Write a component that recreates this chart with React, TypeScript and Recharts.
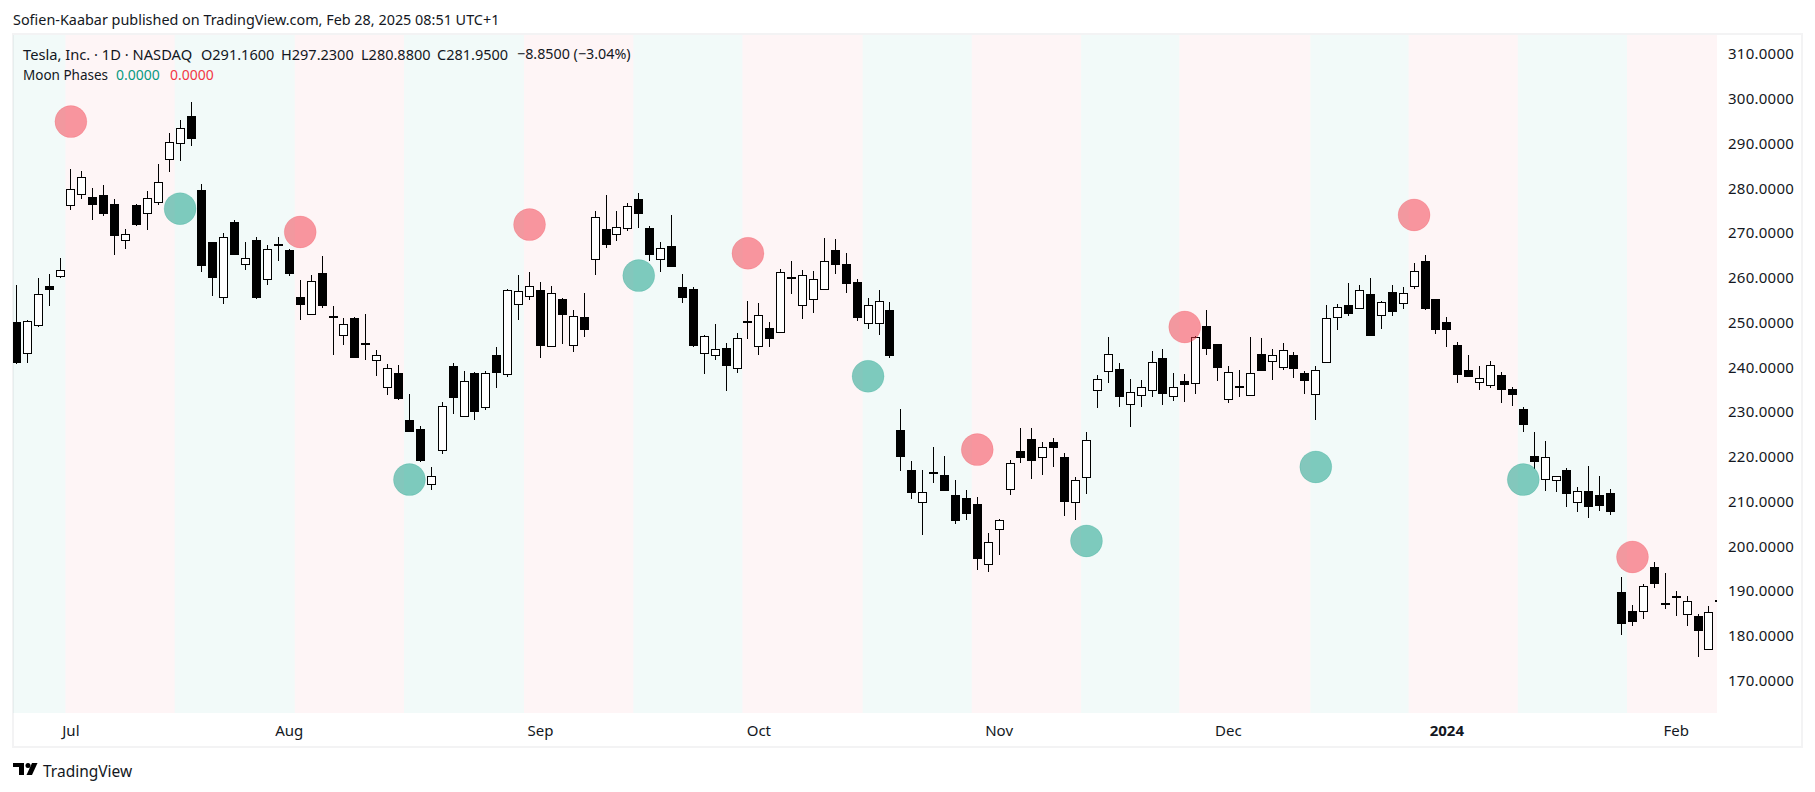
import { Bar, ComposedChart, Line, ReferenceArea, XAxis, YAxis } from "recharts"

// Tesla daily candles, Jun 2023 - Feb 2024
const opens = [
  250.12, 243.27, 249.53, 258.17, 260.48, 276.35, 278.81, 278.06, 278.51, 276.5, 268.52, 276.27, 274.56, 277.02, 286.48, 290.06, 296.09, 279.55, 267.93, 255.78,
  272.47, 263.16, 268.45, 259.81, 267.35, 266.22, 255.71, 251.99, 261.07, 251.35, 247.29, 251.02, 245.3, 241.7, 235.67, 238.72, 228.22, 226.21, 214.0, 221.59,
  240.29, 229.19, 238.72, 231.2, 242.75, 238.57, 254.22, 256.01, 257.27, 244.83, 255.26, 245.06, 251.24, 264.28, 270.91, 269.87, 271.21, 277.61, 271.13, 264.28,
  267.11, 257.95, 257.5, 243.27, 242.82, 244.31, 239.92, 250.22, 244.83, 248.78, 247.96, 260.06, 254.0, 255.34, 257.57, 266.22, 263.09, 259.06, 249.97, 249.97,
  252.81, 225.98, 217.04, 209.97, 216.47, 215.93, 211.46, 210.79, 209.45, 196.11, 203.93, 212.87, 221.29, 223.97, 220.03, 223.3, 219.95, 209.97, 215.55, 234.98,
  239.25, 239.62, 231.87, 233.88, 235.0, 242.08, 233.66, 236.94, 236.57, 249.23, 245.21, 232.99, 235.69, 233.88, 242.97, 241.48, 240.14, 242.75, 238.72, 234.11,
  241.26, 251.17, 253.85, 253.18, 256.38, 251.76, 256.83, 254.44, 258.24, 263.76, 255.26, 250.12, 244.98, 239.39, 236.79, 236.12, 238.28, 235.15, 230.68, 220.17,
  215.11, 214.88, 217.05, 209.97, 212.35, 211.46, 211.9, 189.78, 185.53, 185.61, 195.37, 187.25, 188.89, 184.93, 184.41, 177.11, 187.85,
]
const closes = [
  240.96, 250.27, 256.31, 257.27, 261.67, 279.77, 282.46, 276.27, 274.26, 269.34, 269.72, 271.8, 277.76, 281.34, 290.28, 293.41, 291.1, 262.64, 259.96, 269.05,
  265.1, 264.35, 255.49, 266.36, 267.45, 260.85, 253.92, 259.21, 253.7, 251.45, 249.6, 242.08, 245.4, 242.67, 239.77, 232.91, 225.54, 219.06, 215.63, 231.27,
  233.14, 236.86, 230.01, 238.65, 238.72, 257.2, 256.98, 258.09, 244.76, 256.53, 251.69, 251.39, 248.33, 273.52, 267.33, 271.28, 275.97, 274.26, 265.1, 266.59,
  262.42, 255.49, 244.76, 246.92, 244.02, 240.29, 246.47, 250.32, 251.61, 246.32, 261.22, 260.16, 260.55, 259.66, 263.68, 262.86, 258.62, 251.02, 253.85, 254.74,
  242.52, 219.95, 211.9, 212.05, 216.57, 212.35, 205.65, 207.21, 197.15, 200.88, 205.8, 218.53, 219.73, 219.06, 222.11, 221.96, 209.89, 214.74, 223.68, 237.31,
  242.9, 233.36, 234.4, 235.52, 241.11, 234.03, 235.52, 236.04, 246.7, 244.09, 239.84, 238.87, 235.79, 238.65, 239.17, 242.67, 243.79, 239.62, 236.94, 239.32,
  250.94, 253.4, 251.91, 257.2, 247.0, 254.52, 252.36, 256.53, 261.45, 253.03, 248.33, 248.33, 238.28, 237.83, 237.53, 240.44, 234.92, 233.81, 227.1, 218.83,
  219.87, 215.63, 211.68, 212.28, 208.77, 209.0, 207.66, 182.63, 183.07, 191.05, 191.57, 186.95, 188.52, 187.84, 181.06, 185.23, 187.95,
]
const highs = [
  258.39, 250.57, 259.96, 260.85, 264.43, 284.32, 283.87, 280.07, 280.74, 277.61, 270.91, 276.5, 279.4, 285.44, 292.29, 295.2, 299.22, 280.97, 267.93, 269.94,
  272.92, 267.93, 269.05, 267.26, 269.05, 266.44, 259.51, 260.63, 264.87, 253.7, 251.02, 251.24, 251.91, 243.87, 240.74, 240.51, 234.03, 226.88, 217.72, 232.24,
  240.96, 239.17, 238.95, 239.17, 244.54, 257.5, 260.63, 261.3, 259.06, 258.17, 255.49, 252.81, 256.6, 274.93, 278.51, 274.93, 276.72, 278.95, 271.58, 268.0,
  274.04, 260.85, 257.95, 247.22, 249.68, 245.43, 247.66, 254.82, 254.37, 250.12, 261.97, 263.76, 261.75, 261.52, 268.9, 268.67, 265.54, 259.73, 255.49, 257.27,
  254.59, 230.68, 219.06, 217.04, 222.19, 220.17, 214.81, 212.57, 211.01, 202.97, 206.09, 219.28, 226.43, 226.43, 223.3, 224.2, 220.84, 215.48, 225.54, 238.28,
  246.77, 240.96, 237.38, 237.16, 243.64, 244.09, 238.72, 238.5, 246.99, 252.8, 245.21, 240.29, 239.4, 246.77, 246.55, 244.09, 245.43, 243.42, 239.17, 240.29,
  253.92, 254.15, 258.84, 258.39, 259.96, 254.82, 258.39, 257.95, 263.31, 265.1, 255.26, 251.24, 245.65, 242.75, 240.29, 241.41, 238.95, 235.59, 231.13, 225.54,
  223.53, 215.63, 217.49, 213.25, 217.94, 215.7, 212.8, 193.13, 186.87, 191.57, 196.48, 194.02, 190.0, 188.89, 184.86, 186.65, 188.0,
]
const lows = [
  240.74, 240.96, 249.08, 253.7, 259.96, 275.15, 277.61, 272.92, 273.81, 265.1, 266.44, 271.58, 270.69, 276.35, 283.65, 286.11, 289.46, 261.3, 255.93, 254.15,
  265.1, 261.75, 255.26, 258.39, 263.76, 260.4, 250.57, 251.99, 253.25, 242.75, 244.98, 242.08, 241.63, 238.05, 233.81, 232.69, 225.54, 218.83, 212.58, 220.62,
  229.56, 229.19, 228.22, 230.46, 235.37, 237.83, 250.57, 255.04, 242.08, 244.83, 245.21, 243.42, 246.77, 260.63, 266.66, 268.23, 270.46, 271.13, 263.76, 261.3,
  262.42, 254.37, 244.54, 238.5, 241.63, 234.7, 238.72, 246.33, 242.75, 244.54, 247.74, 256.38, 250.79, 252.13, 257.57, 260.85, 256.6, 250.35, 248.56, 247.22,
  242.08, 216.82, 210.56, 202.52, 214.14, 212.35, 204.98, 205.87, 194.69, 194.25, 198.05, 211.46, 218.61, 215.03, 215.93, 217.72, 206.76, 205.87, 211.68, 230.9,
  236.49, 231.13, 226.66, 231.13, 233.36, 231.57, 232.47, 232.24, 234.03, 242.75, 236.94, 232.02, 233.36, 233.88, 239.17, 237.16, 239.4, 237.61, 234.03, 228.22,
  240.96, 248.33, 251.46, 253.18, 247.0, 248.56, 251.46, 253.03, 257.5, 252.81, 247.44, 244.54, 236.49, 237.83, 234.92, 235.37, 232.02, 231.35, 225.54, 217.27,
  212.35, 212.13, 208.77, 207.66, 206.32, 207.88, 206.99, 180.17, 182.18, 183.75, 190.67, 185.98, 184.41, 182.18, 175.25, 177.11, 187.8,
]

// moon phase markers: candle index and the price the circle sits at
const fullMoonIndex = [5, 26, 47, 67, 88, 107, 128, 148]
const fullMoonPrice = [294.9, 270.24, 271.88, 265.47, 221.59, 249.0, 274.04, 197.6]
const newMoonIndex = [15, 36, 57, 78, 98, 119, 138]
const newMoonPrice = [275.45, 214.89, 260.48, 237.98, 201.18, 217.72, 214.89]

const yTicks = [170, 180, 190, 200, 210, 220, 230, 240, 250, 260, 270, 280, 290, 300, 310]
const xTicks = [5, 25, 48, 68, 90, 111, 131, 152]
const xLabels = ["Jul", "Aug", "Sep", "Oct", "Nov", "Dec", "2024", "Feb"]

const FONT = "'Noto Sans', sans-serif"
const TEXT = "#131722"
const GREEN = "#089981"
const RED = "#f23645"
const X_MIN = -0.302
const X_MAX = 155.74

const rows = opens.map((open, i) => ({
  i,
  open,
  close: closes[i],
  high: highs[i],
  low: lows[i],
  full: fullMoonIndex.includes(i) ? fullMoonPrice[fullMoonIndex.indexOf(i)] : null,
  fresh: newMoonIndex.includes(i) ? newMoonPrice[newMoonIndex.indexOf(i)] : null,
}))

// bands flip at every marker: green up to the first full moon, red until the next new moon
const flips = [...fullMoonIndex, ...newMoonIndex].sort((a, b) => a - b)
const bands = [X_MIN, ...flips.map((i) => i - 0.5), X_MAX].slice(0, -1).map((from, n, all) => ({
  from,
  to: n + 1 < all.length ? all[n + 1] : X_MAX,
  color: n % 2 === 0 ? GREEN : RED,
}))

function Candle(props: any) {
  const { x, y, width, height, payload } = props
  const { open, close, high, low } = payload
  const perUnit = height / (high - low)
  const at = (p: number) => y + (high - p) * perUnit
  const cx = Math.floor(x + width / 2) + 0.5
  const top = Math.round(at(Math.max(open, close)))
  const bottom = Math.round(at(Math.min(open, close)))
  const up = close >= open
  return (
    <g shapeRendering="crispEdges">
      <line x1={cx} x2={cx} y1={y} y2={y + height} stroke="#000" strokeWidth={1} />
      {up ? (
        <rect x={cx - 4} y={top + 0.5} width={8} height={Math.max(bottom - top, 1)} fill="#fff" stroke="#000" strokeWidth={1} />
      ) : (
        <rect x={cx - 4.5} y={top} width={9} height={Math.max(bottom - top, 1)} fill="#000" />
      )}
    </g>
  )
}

function MonthTick(props: any) {
  const { x, y, payload } = props
  const label = xLabels[xTicks.indexOf(payload.value)]
  return (
    <text x={x} y={y} dy={10} textAnchor="middle" fontFamily={FONT} fontSize={15} fill={TEXT} fontWeight={label === "2024" ? 700 : 400}>
      {label}
    </text>
  )
}

function Label({ x, y, color = TEXT, size = 14.5, children }: any) {
  return (
    <div style={{ position: "absolute", left: x, top: y, color, font: `${size}px ${FONT}`, lineHeight: "20px", whiteSpace: "pre" }}>{children}</div>
  )
}

export default function App() {
  return (
    <div style={{ position: "absolute", left: 0, top: 0, width: 1815, height: 792, background: "#fff", overflow: "hidden" }}>
      <div style={{ position: "absolute", left: 12, top: 33, width: 1791, height: 715, boxSizing: "border-box", border: "2px solid #f3f3f4" }} />
      <div style={{ position: "absolute", left: 0, top: 0 }}>
        <ComposedChart width={1815} height={792} data={rows} margin={{ left: 13, right: 12, top: 35, bottom: 45 }}>
          {bands.map((b) => (
            <ReferenceArea key={b.from} x1={b.from} x2={b.to} fill={b.color} fillOpacity={0.05} stroke="none" />
          ))}
          <XAxis
            dataKey="i"
            type="number"
            domain={[X_MIN, X_MAX]}
            allowDataOverflow
            ticks={xTicks}
            interval={0}
            height={34}
            axisLine={false}
            tickLine={false}
            tickSize={0}
            tickMargin={13}
            tick={<MonthTick />}
          />
          <YAxis
            orientation="right"
            type="number"
            domain={[162.72, 314.26]}
            allowDataOverflow
            ticks={yTicks}
            interval={0}
            width={86}
            axisLine={false}
            tickLine={false}
            tickSize={0}
            tickMargin={11}
            tickFormatter={(v: number) => v.toFixed(4)}
            tick={{ fontFamily: FONT, fontSize: 15, fill: TEXT, letterSpacing: 0.25 }}
          />
          <Bar dataKey={(r: any) => [r.low, r.high]} barSize={9} shape={<Candle />} isAnimationActive={false} />
          <Line
            dataKey="full"
            stroke="none"
            dot={{ r: 16, fill: RED, fillOpacity: 0.5, stroke: RED, strokeOpacity: 0.15, strokeWidth: 1 }}
            isAnimationActive={false}
          />
          <Line
            dataKey="fresh"
            stroke="none"
            dot={{ r: 16, fill: GREEN, fillOpacity: 0.5, stroke: GREEN, strokeOpacity: 0.15, strokeWidth: 1 }}
            isAnimationActive={false}
          />
        </ComposedChart>
      </div>

      <Label x={13} y={10} size={14.4}>Sofien-Kaabar published on TradingView.com, Feb 28, 2025 08:51 UTC+1</Label>
      <Label x={23} y={44} size={14.7}>Tesla, Inc. · 1D · NASDAQ</Label>
      <Label x={201} y={44}>O291.1600</Label>
      <Label x={281} y={44}>H297.2300</Label>
      <Label x={361} y={44}>L280.8800</Label>
      <Label x={437} y={44}>C281.9500</Label>
      <Label x={517} y={44} size={14.3}>−8.8500 (−3.04%)</Label>
      <Label x={23} y={65} size={13.5}>Moon Phases</Label>
      <Label x={116} y={65} size={14} color={GREEN}>0.0000</Label>
      <Label x={170} y={65} size={14} color={RED}>0.0000</Label>

      <svg style={{ position: "absolute", left: 13, top: 763 }} width={25} height={13} viewBox="0 0 25 13">
        <path d="M0 0H11V12H6V4H0Z" fill="#000" />
        <circle cx={15} cy={2.5} r={2.5} fill="#000" />
        <path d="M19 0H24.5L19 12H13.5Z" fill="#000" />
      </svg>
      <div style={{ position: "absolute", left: 43, top: 760, color: TEXT, font: `15.5px ${FONT}`, lineHeight: "22px" }}>TradingView</div>
    </div>
  )
}
